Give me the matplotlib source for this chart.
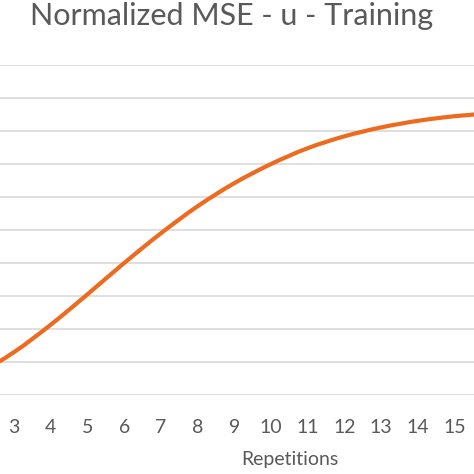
import numpy as np
import matplotlib
matplotlib.use("Agg")
import matplotlib.pyplot as plt
from matplotlib.path import Path
from matplotlib.patches import PathPatch

# data (y in gridline units, 0.1 per gridline)
repetitions = [1, 2, 3, 4, 5, 6, 7, 8, 9, 10, 11, 12, 13, 14, 15, 16]
mse_u = [0.03, 0.065, 0.130, 0.213, 0.305, 0.400, 0.490, 0.572,
         0.642, 0.700, 0.748, 0.784, 0.811, 0.831, 0.845, 0.854]
# first two and last category fall outside the cropped picture
tick_labels = ["", ""] + [str(r) for r in repetitions[2:-1]] + [""]

text_col = "#595959"
line_col = "#EE6A1E"
grid_col = "#D9D9D9"

fig = plt.figure(figsize=(4.74, 4.74), dpi=100)
# plot area is cropped on both sides in the original chart
ax = fig.add_axes([-0.164, 0.1667, 1.239, 0.696])

# Excel style smoothed line: Catmull-Rom segments drawn as cubic Beziers
x = np.array(repetitions, dtype=float)
y = np.array(mse_u, dtype=float)
verts = [(x[0], y[0])]
codes = [Path.MOVETO]
for i in range(len(x) - 1):
    p0 = (x[max(i - 1, 0)], y[max(i - 1, 0)])
    p1 = (x[i], y[i])
    p2 = (x[i + 1], y[i + 1])
    p3 = (x[min(i + 2, len(x) - 1)], y[min(i + 2, len(x) - 1)])
    c1 = (p1[0] + (p2[0] - p0[0]) / 6, p1[1] + (p2[1] - p0[1]) / 6)
    c2 = (p2[0] - (p3[0] - p1[0]) / 6, p2[1] - (p3[1] - p1[1]) / 6)
    verts += [c1, c2, p2]
    codes += [Path.CURVE4] * 3
ax.add_patch(PathPatch(Path(verts, codes), facecolor="none",
                       edgecolor=line_col, lw=3.0, capstyle="round",
                       clip_on=False, zorder=3))

ax.set_xlim(0.5, 16.5)
ax.set_ylim(0, 1.0)
ax.set_yticks(np.arange(0, 1.01, 0.1))
ax.set_xticks(repetitions)
ax.set_xticklabels(tick_labels)
ax.grid(axis="y", color=grid_col, lw=1.2)
ax.set_axisbelow(True)
for s in ax.spines.values():
    s.set_visible(False)
ax.tick_params(axis="y", left=False, labelleft=False)
ax.tick_params(axis="x", bottom=False, labelsize=14, labelcolor=text_col, pad=14)
for lab in ax.get_xticklabels():
    lab.set_family("Lato")

fig.text(0.488, 1 - 16 / 474, "Normalized MSE - u - Training", ha="center", va="center",
         fontsize=22, color=text_col, family="Lato")
fig.text(290 / 474, 1 - 460 / 474, "Repetitions", ha="center", va="center",
         fontsize=14, color=text_col, family="Lato")

fig.savefig("out.png", dpi=100, facecolor="white")
